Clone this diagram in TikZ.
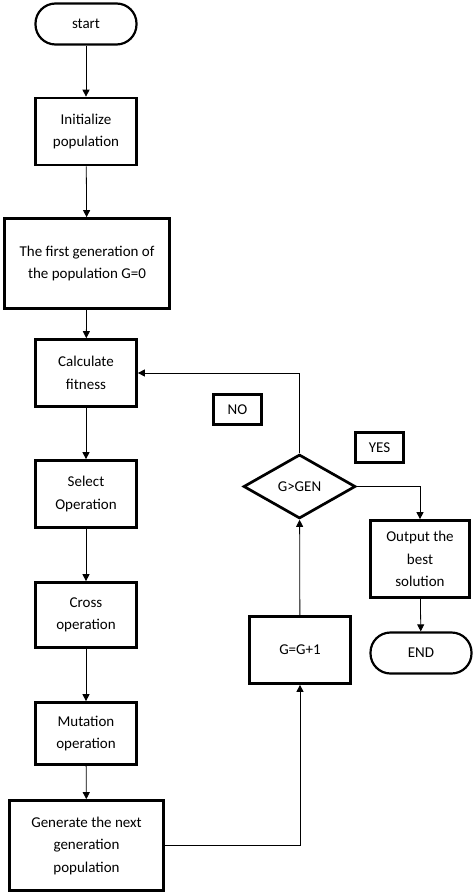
\documentclass[tikz,border=0pt]{standalone}
\usepackage{fontspec}
\setmainfont{Carlito}
\usetikzlibrary{arrows.meta,positioning,shapes.geometric}

\begin{document}
\begin{tikzpicture}[x=1pt,y=-1pt,>={Triangle[length=7pt,width=7pt]},
  every node/.style={align=center,font=\fontsize{15}{22.5}\selectfont,inner sep=1pt},
  procbox/.style={draw,line width=2.7pt,minimum width=101pt,minimum height=67pt},
  termbox/.style={draw,line width=2.2pt,rounded corners=20pt,minimum width=101pt,minimum height=41pt},
  tagbox/.style={draw,line width=2.7pt,minimum width=48pt,minimum height=30pt},
  decbox/.style={draw,diamond,line width=2.7pt,minimum width=112pt,minimum height=64pt},
  flow/.style={->,line width=0.8pt}]
  \useasboundingbox (0,0) rectangle (474,893);
  %% main column
  \node[termbox] (start) at (86,24) {start};
  \node[procbox] (init) at (86,131.5) {Initialize\\population};
  \node[procbox,minimum width=165pt,minimum height=90pt] (first) at (87,263.5)
    {The first generation of\\the population G=0};
  \node[procbox] (calc) at (86,373) {Calculate\\fitness};
  \node[procbox] (select) at (86,494) {Select\\Operation};
  \node[procbox,minimum height=65pt] (cross) at (86,615) {Cross\\operation};
  \node[procbox,minimum height=62pt] (mutate) at (86,733.5) {Mutation\\operation};
  \node[procbox,minimum width=154pt,minimum height=90pt] (nextgen) at (86.5,845.5)
    {Generate the next\\generation\\population};
  %% loop and exit
  \node[procbox] (incr) at (300,650) {G=G+1};
  \node[decbox] (check) at (299.5,486.5) {G>GEN};
  \node[procbox,minimum width=99pt,minimum height=77pt] (best) at (420,559)
    {Output the\\best\\solution};
  \node[termbox] (stop) at (421,653) {END};
  \node[tagbox] (no) at (237.5,409.5) {NO};
  \node[tagbox] (yes) at (379.5,447.5) {YES};
  %% connectors
  \draw[flow] (start) -- (init);
  \draw[flow] (init) -- (first);
  \draw[flow] (first) -- (calc);
  \draw[flow] (calc) -- (select);
  \draw[flow] (select) -- (cross);
  \draw[flow] (cross) -- (mutate);
  \draw[flow] (mutate) -- (nextgen);
  \draw[flow] (nextgen.east) -| (incr.south);
  \draw[flow] (incr) -- (check);
  \draw[flow] (check.north) |- (calc.east);
  \draw[flow] (check.east) -| (best.north);
  \draw[flow] (best) -- (stop);
\end{tikzpicture}
\end{document}
